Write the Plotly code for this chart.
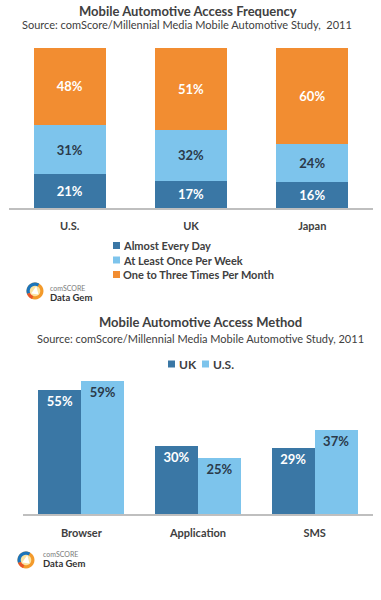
import math
import plotly.graph_objects as go

W, H = 381, 600

# ---------------- data ----------------
freq_categories = ["U.S.", "UK", "Japan"]
freq_series = ["Almost Every Day", "At Least Once Per Week", "One to Three Times Per Month"]
almost_every_day = [21, 17, 16]
at_least_weekly = [31, 32, 24]
one_to_three_monthly = [48, 51, 60]

method_categories = ["Browser", "Application", "SMS"]
method_series = ["UK", "U.S."]
method_uk = [55, 30, 29]
method_us = [59, 25, 37]

# ---------------- style ----------------
DARK = "#3A77A5"
LIGHT = "#7DC4EC"
ORANGE = "#F28D31"
TXT = "#404040"
FONT = "Lato, Open Sans, sans-serif"


def px(x):
    return x / W


def py(y):
    return 1 - y / H


fig = go.Figure()

# top chart (stacked)
freq_values = [almost_every_day, at_least_weekly, one_to_three_monthly]
freq_colors = [DARK, LIGHT, ORANGE]
freq_text_colors = ["white", "#2B3A4A", "white"]
for name, vals, col, tcol in zip(freq_series, freq_values, freq_colors, freq_text_colors):
    fig.add_trace(go.Bar(
        x=freq_categories, y=vals, name=name,
        marker=dict(color=col, line=dict(width=0)),
        width=0.593, offset=-0.2965,
        text=[f"{v}%" for v in vals],
        textposition="inside", insidetextanchor="middle",
        textfont=dict(family=FONT, size=13, color=tcol, weight="bold"),
        xaxis="x", yaxis="y", showlegend=False, offsetgroup="f",
    ))

# bottom chart (grouped)
for name, vals, col, tcol, off, grp in [
    (method_series[0], method_uk, DARK, "white", -0.368, "a"),
    (method_series[1], method_us, LIGHT, "#2B3A4A", 0.0, "b"),
]:
    fig.add_trace(go.Bar(
        x=method_categories, y=vals, name=name,
        marker=dict(color=col, line=dict(width=0)),
        width=0.368, offset=off, offsetgroup=grp,
        text=[f"{v}%" for v in vals],
        textposition="inside", insidetextanchor="end",
        textfont=dict(family=FONT, size=13, color=tcol, weight="bold"),
        xaxis="x2", yaxis="y2", showlegend=False,
    ))

axis_common = dict(
    showgrid=False, zeroline=False, ticks="", fixedrange=True,
)
fig.update_layout(
    width=W, height=H,
    margin=dict(l=0, r=0, t=0, b=0),
    paper_bgcolor="white", plot_bgcolor="white",
    barmode="stack",
    font=dict(family=FONT, color=TXT),
    xaxis=dict(domain=[px(9), px(373)], range=[-0.5, 2.5], showline=True,
               linecolor="#BFBFBF", linewidth=1.5, anchor="y",
               tickfont=dict(family=FONT, size=11, color=TXT, weight="bold"),
               ticklabelstandoff=7, **axis_common),
    yaxis=dict(domain=[py(208), py(48)], range=[0, 100], showticklabels=False,
               showline=False, anchor="x", **axis_common),
    xaxis2=dict(domain=[px(23), px(373)], range=[-0.5, 2.5], showline=True,
                linecolor="#BFBFBF", linewidth=1.5, anchor="y2",
                tickfont=dict(family=FONT, size=11, color=TXT, weight="bold"),
                ticklabelstandoff=8, **axis_common),
    yaxis2=dict(domain=[py(514), py(378.4)], range=[0, 60], showticklabels=False,
                showline=False, anchor="x2", **axis_common),
)

ann = []
# titles
ann.append(dict(x=px(188), y=py(11), text="<b>Mobile Automotive Access Frequency</b>",
                font=dict(size=13, color=TXT)))
ann.append(dict(x=px(187), y=py(25), text="Source: comScore/Millennial Media Mobile Automotive Study,  2011",
                font=dict(size=11, color=TXT)))
ann.append(dict(x=px(201), y=py(322), text="<b>Mobile Automotive Access Method</b>",
                font=dict(size=13, color=TXT)))
ann.append(dict(x=px(200), y=py(338), text="Source: comScore/Millennial Media Mobile Automotive Study, 2011",
                font=dict(size=11, color=TXT)))

shapes = []


def legend_square(x_left, y_center, color, size=7):
    shapes.append(dict(type="rect", xref="paper", yref="paper",
                       xsizemode="pixel", ysizemode="pixel",
                       xanchor=px(x_left), yanchor=py(y_center),
                       x0=0, x1=size, y0=-size / 2, y1=size / 2,
                       fillcolor=color, line=dict(width=0)))


# legend (top)
for name, col, yy in zip(freq_series, freq_colors, [245.5, 260, 274.5]):
    legend_square(113, yy, col)
    ann.append(dict(x=px(121), y=py(yy), xanchor="left", text=f"<b>{name}</b>",
                    font=dict(size=11, color=TXT)))
# legend (bottom)
for name, col, xl in zip(method_series, [DARK, LIGHT], [168, 202]):
    legend_square(xl, 364, col)
    ann.append(dict(x=px(xl + 9), y=py(364), xanchor="left", text=f"<b>{name}</b>",
                    font=dict(size=12, color=TXT)))


def arc_path(r, a0, a1, n=24, close_center=True):
    pts = []
    for i in range(n + 1):
        a = math.radians(a0 + (a1 - a0) * i / n)
        pts.append((r * math.cos(a), r * math.sin(a)))
    d = "M " + " L ".join(f"{x:.2f},{y:.2f}" for x, y in pts)
    if close_center:
        d += " L 0,0"
    return d + " Z"


# logos
for cx, cy, tx, ty1, ty2 in [(35, 291, 48, 288, 297), (26, 560, 41, 554, 563)]:
    r = 8.5
    common = dict(type="path", xref="paper", yref="paper",
                  xsizemode="pixel", ysizemode="pixel",
                  xanchor=px(cx), yanchor=py(cy), line=dict(width=0))
    shapes.append(dict(common, path=arc_path(r, 0, 360), fillcolor="#F39A2B"))
    shapes.append(dict(common, path=arc_path(r, 60, 200), fillcolor="#1B75BB"))
    shapes.append(dict(common, path=arc_path(r, 200, 250), fillcolor="#E8542A"))
    shapes.append(dict(common, path=arc_path(r * 0.62, 0, 360), fillcolor="#FBE3A0"))
    shapes.append(dict(common, path=f"M {-r*0.45},{-r*0.3} L {r*0.15},{r*0.55} L {r*0.42},{-r*0.4} Z",
                       fillcolor="white"))
    ann.append(dict(x=px(tx), y=py(ty1), xanchor="left", text="comSCORE",
                    font=dict(size=7, color="#7A7A7A")))
    ann.append(dict(x=px(tx), y=py(ty2), xanchor="left", text="<b>Data Gem</b>",
                    font=dict(size=9.5, color="#333333")))

for a in ann:
    a.setdefault("xref", "paper")
    a.setdefault("yref", "paper")
    a.setdefault("showarrow", False)
    a.setdefault("yanchor", "middle")
    a.setdefault("xanchor", "center")

fig.update_layout(annotations=ann, shapes=shapes)

fig.write_html("out.html", config={"displayModeBar": False, "staticPlot": True},
               post_script="document.body.style.margin='0';")
